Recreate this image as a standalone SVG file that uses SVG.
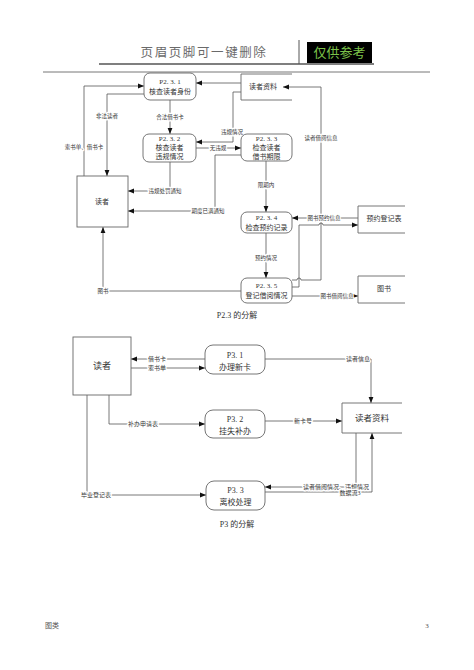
<svg xmlns="http://www.w3.org/2000/svg" width="474" height="670" viewBox="0 0 474 670">
<style>
.t{font-family:"Liberation Serif","Noto Sans CJK SC",serif;fill:#333;text-anchor:middle;dominant-baseline:central}
.lb{font-size:5.5px;stroke:#fff;stroke-width:2.5px;paint-order:stroke;stroke-linejoin:round}
.lb3{font-size:6px;stroke:#fff;stroke-width:2.5px;paint-order:stroke;stroke-linejoin:round}
.n{font-size:7px}
.n3{font-size:8px}
.box{fill:#fff;stroke:#666;stroke-width:0.9}
.st{fill:none;stroke:#666;stroke-width:0.9}
.c{fill:none;stroke:#555;stroke-width:0.8}
.a{marker-end:url(#ah)}
</style>
<defs>
<marker id="ah" markerUnits="userSpaceOnUse" markerWidth="6" markerHeight="6" viewBox="0 0 6 6" refX="6" refY="3" orient="auto">
<path d="M0,0.6 L6,3 L0,5.4 Z" fill="#111"/>
</marker>
</defs>
<rect width="474" height="670" fill="#fff"/>
<g id="header">
<text class="t" x="204" y="53" style="font-size:12.5px;fill:#6a6a6a;letter-spacing:1.6px">页眉页脚可一键删除</text>
<rect x="307" y="42" width="65" height="21" fill="#000"/>
<text class="t" x="339.5" y="52.5" style="font-size:13px;fill:#7cc24a">仅供参考</text>
<line x1="99" y1="64" x2="374" y2="64" stroke="#555" stroke-width="1.4"/>
<line x1="299" y1="40" x2="299" y2="64" stroke="#555" stroke-width="1"/>
<line x1="43" y1="72" x2="430" y2="72" stroke="#666" stroke-width="0.9"/>
</g>
<g id="connectors">
<path class="c a" d="M241,83 L196,83"/>
<path class="c a" d="M84,176 L84,86 L144,86"/>
<path class="c a" d="M144,94 L107,94 L107,176"/>
<path class="c a" d="M170,100 L170,134"/>
<path class="c a" d="M241,92 L233,92 L233,142 L196,142"/>
<path class="c a" d="M196,148 L241,148"/>
<path class="c a" d="M170,162 L170,191 L128,191"/>
<path class="c a" d="M241,155 L215,155 L215,211 L128,211"/>
<path class="c a" d="M266,161 L266,212"/>
<path class="c a" d="M358,218 L292,218"/>
<path class="c a" d="M266,233 L266,278"/>
<path class="c a" d="M292,287 L299,287 L299,225 L319,225 A2,2 0 0 1 323,225 L358,225"/>
<path class="c a" d="M292,280 L297,280 A2,2 0 0 1 301,280 L321,280 L321,87 L283,87"/>
<path class="c a" d="M292,296 L358,296"/>
<path class="c a" d="M241,291 L103,291 L103,227"/>
<path class="c a" d="M205,359 L131,359"/>
<path class="c a" d="M131,368 L205,368"/>
<path class="c a" d="M109,395 L109,424 L205,424"/>
<path class="c a" d="M265,359 L371,359 L371,403"/>
<path class="c a" d="M265,421 L342,421"/>
<path class="c a" d="M87,395 L87,495 L206,495"/>
<path class="c a" d="M356,433 L356,487 L265,487"/>
<path class="c a" d="M265,492 L372,492 L372,433"/>
</g>
<g id="labels">
<text class="t lb" x="107" y="116">非法读者</text>
<text class="t lb" x="84" y="147">索书单、借书卡</text>
<text class="t lb" x="170" y="117">合法借书卡</text>
<text class="t lb" x="232" y="132">违规情况</text>
<text class="t lb" x="218" y="148">无违规</text>
<text class="t lb" x="321" y="138">读者借阅信息</text>
<text class="t lb" x="165" y="191">违规处罚通知</text>
<text class="t lb" x="208" y="211">期度已满通知</text>
<text class="t lb" x="266" y="185">限期内</text>
<text class="t lb" x="324" y="218">图书预约信息</text>
<text class="t lb" x="266" y="258">预约情况</text>
<text class="t lb" x="337" y="296">图书借阅信息</text>
<text class="t lb" x="103" y="291">图书</text>
<text class="t lb3" x="157" y="359">借书卡</text>
<text class="t lb3" x="157" y="368">索书单</text>
<text class="t lb3" x="143" y="424">补办申请表</text>
<text class="t lb3" x="358" y="359">读者信息</text>
<text class="t lb3" x="303" y="421">新卡号</text>
<text class="t lb3" x="96" y="495">毕业登记表</text>
<text class="t lb3" x="336" y="487">读者借阅情况、违规情况</text>
<text class="t lb3" x="350" y="493">数据流3</text>
</g>
<g id="p231"><rect class="box" x="144" y="73" width="52" height="27" rx="6"/><text class="t n" x="170" y="82">P2. 3. 1</text><text class="t n" x="170" y="92">核查读者身份</text></g>
<g id="p232"><rect class="box" x="143" y="134" width="53" height="28" rx="6"/><text class="t n" x="169.5" y="139">P2. 3. 2</text><text class="t n" x="169.5" y="148">核查读者</text><text class="t n" x="169.5" y="157">违规情况</text></g>
<g id="p233"><rect class="box" x="241" y="134" width="51" height="27" rx="6"/><text class="t n" x="266.5" y="139">P2. 3. 3</text><text class="t n" x="266.5" y="148">检查读者</text><text class="t n" x="266.5" y="157">借书期限</text></g>
<g id="p234"><rect class="box" x="241" y="212" width="51" height="21" rx="6"/><text class="t n" x="266.5" y="218">P2. 3. 4</text><text class="t n" x="266.5" y="228">检查预约记录</text></g>
<g id="p235"><rect class="box" x="241" y="278" width="51" height="25" rx="6"/><text class="t n" x="266.5" y="286">P2. 3. 5</text><text class="t n" x="266.5" y="296">登记借阅情况</text></g>
<g id="reader1"><rect class="box" x="77" y="176" width="51" height="51"/><text class="t n" x="102" y="202">读者</text></g>
<g id="store1"><path class="st" d="M292,74 L241,74 L241,100 L292,100"/><text class="t n" x="263" y="87">读者资料</text></g>
<g id="store2"><path class="st" d="M405,206 L358,206 L358,233 L405,233"/><text class="t n" x="384" y="219">预约登记表</text></g>
<g id="store3"><path class="st" d="M405,276 L358,276 L358,303 L405,303"/><text class="t n" x="384" y="289">图书</text></g>
<text class="t" x="237" y="315" style="font-size:8px">P2.3 的分解</text>
<g id="reader2"><rect class="box" x="73" y="337" width="58" height="58"/><text class="t" x="102" y="366" style="font-size:9px">读者</text></g>
<g id="p31"><rect class="box" x="205" y="345" width="60" height="29" rx="8"/><text class="t n3" x="235" y="355">P3. 1</text><text class="t n3" x="235" y="367">办理新卡</text></g>
<g id="p32"><rect class="box" x="205" y="410" width="60" height="28" rx="8"/><text class="t n3" x="235" y="419">P3. 2</text><text class="t n3" x="235" y="431">挂失补办</text></g>
<g id="p33"><rect class="box" x="206" y="481" width="59" height="29" rx="8"/><text class="t n3" x="235.5" y="490">P3. 3</text><text class="t n3" x="235.5" y="502">离校处理</text></g>
<g id="store4"><path class="st" d="M402,403 L342,403 L342,433 L402,433"/><text class="t" x="372" y="418" style="font-size:8.5px">读者资料</text></g>
<text class="t" x="237" y="524" style="font-size:8px">P3 的分解</text>
<g id="footer">
<text class="t" x="52" y="626" style="font-size:7px;fill:#555">图类</text>
<text class="t" x="427" y="626" style="font-size:7px;fill:#555">3</text>
</g>
</svg>
